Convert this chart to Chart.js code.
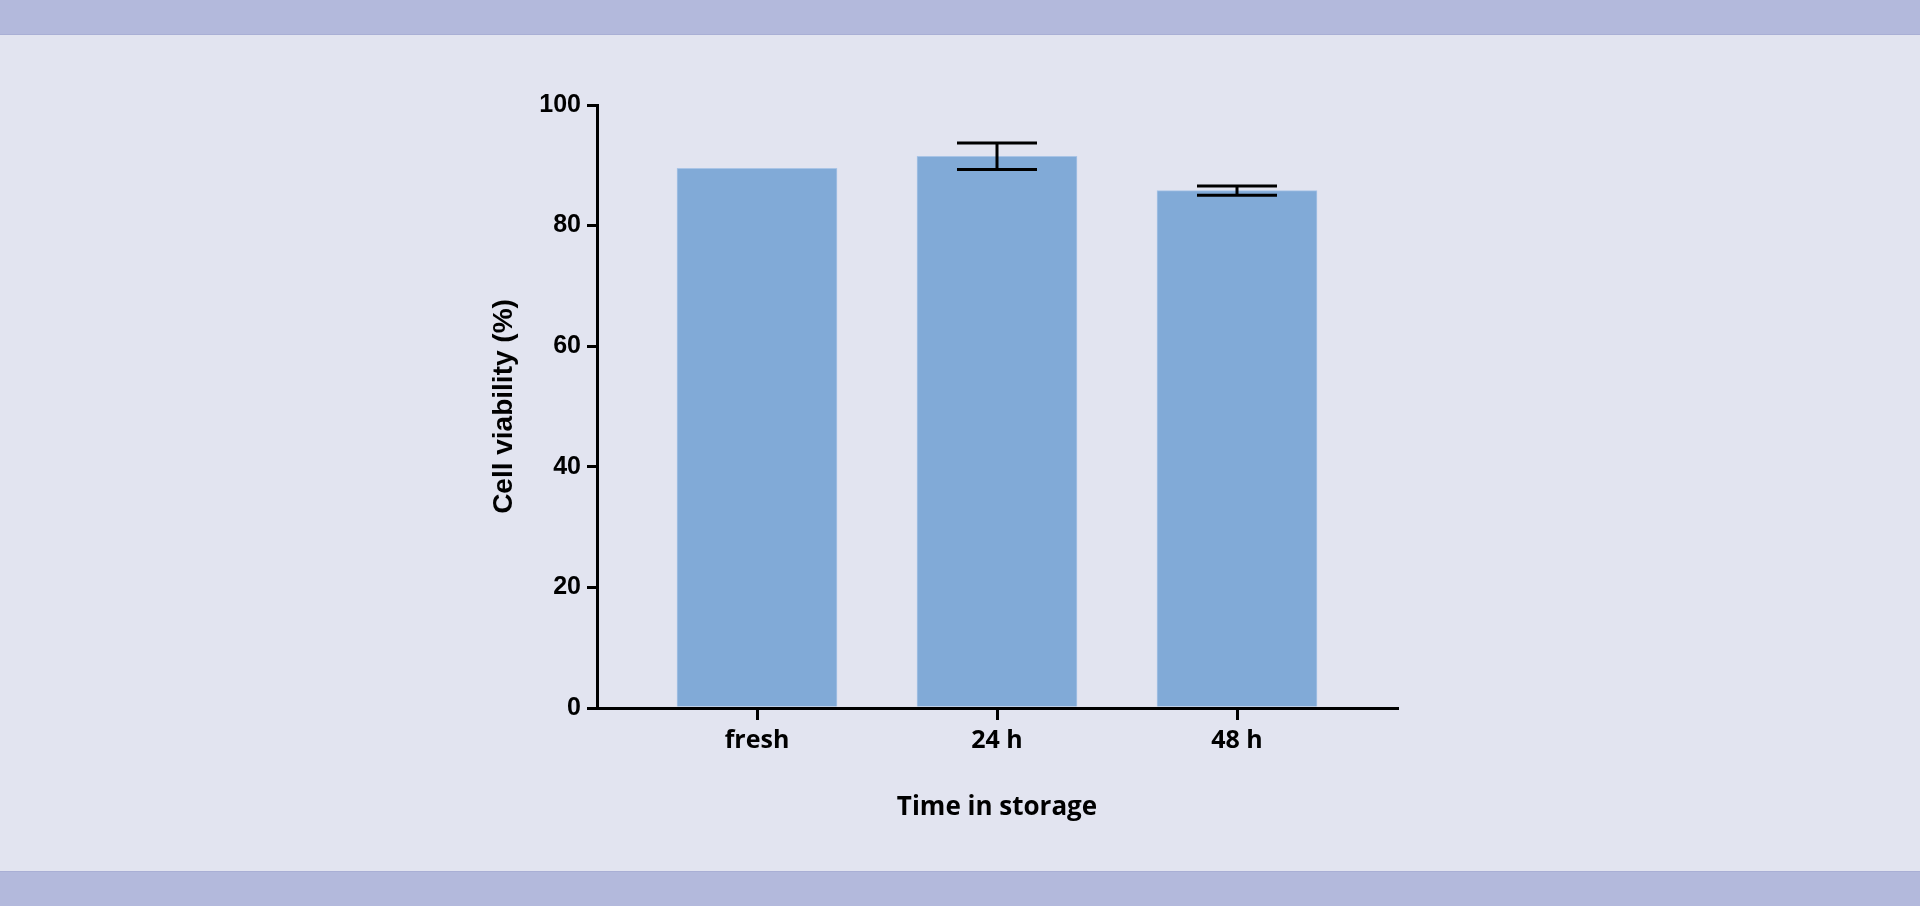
<!DOCTYPE html>
<html>
<head>
<meta charset="utf-8">
<title>Cell viability</title>
<script src="https://cdn.jsdelivr.net/npm/chart.js@4/dist/chart.umd.min.js"></script>
<style>
    html, body { margin: 0; padding: 0; }
    body { width: 1920px; height: 906px; background: #e2e4f0; position: relative; overflow: hidden; }
    .band { position: absolute; left: 0; width: 1920px; background: #b3b9dc; }
    .band.top { top: 0; border-bottom: 1px solid #a9afd5; height: 34px; }
    .band.bottom { bottom: 0; border-top: 1px solid #a9afd5; height: 34px; }
    #chart { position: absolute; left: 0; top: 0; }
</style>
</head>
<body>
<div class="band top"></div>
<div class="band bottom"></div>
<canvas id="chart" width="1920" height="906"></canvas>
<script>
// --- Data ---
const categories = ['fresh', '24 h', '48 h'];
const viability = [89.5, 91.5, 85.8];
const viabilitySd = [null, 2.2, 0.75];
const yTicks = [0, 20, 40, 60, 80, 100];

// --- Error bar plugin (uses the chart's own scales) ---
const errorBars = {
    id: 'errorBars',
    afterDatasetsDraw(chart, args, opts) {
        const { ctx, scales: { x, y } } = chart;
        ctx.save();
        ctx.strokeStyle = opts.color;
        ctx.lineWidth = opts.lineWidth;
        viability.forEach((v, i) => {
            const sd = viabilitySd[i];
            if (!sd) return;
            const cx = x.getPixelForValue(i);
            const yHi = y.getPixelForValue(v + sd);
            const yLo = y.getPixelForValue(v - sd);
            const half = opts.capWidth / 2;
            ctx.beginPath();
            ctx.moveTo(cx, yHi);
            ctx.lineTo(cx, yLo);
            ctx.moveTo(cx - half, yHi);
            ctx.lineTo(cx + half, yHi);
            ctx.moveTo(cx - half, yLo);
            ctx.lineTo(cx + half, yLo);
            ctx.stroke();
        });
        ctx.restore();
    }
};

const ctx = document.getElementById('chart');
new Chart(ctx, {
    type: 'bar',
    data: {
        datasets: [{
            label: 'Cell viability',
            data: viability.map((v, i) => ({ x: i, y: v })),
            backgroundColor: '#81aad7',
            borderColor: '#a9c4e6',
            borderWidth: 1,
            barThickness: 160
        }]
    },
    options: {
        responsive: false,
        animation: false,
        layout: { padding: { left: 484, top: 105, right: 523, bottom: 78 } },
        plugins: {
            legend: { display: false },
            tooltip: { enabled: false },
            errorBars: { color: '#000000', lineWidth: 3, capWidth: 80 }
        },
        scales: {
            x: {
                type: 'linear',
                offset: false,
                min: -2 / 3,
                max: categories.length - 1 + 2 / 3,
                afterBuildTicks: (scale) => {
                    scale.ticks = categories.map((c, i) => ({ value: i }));
                },
                afterFit: (scale) => { scale.height = 120; },
                grid: { offset: false, drawOnChartArea: false, drawTicks: true, tickLength: 12, lineWidth: 3, color: '#000000' },
                border: { display: true, width: 3, color: '#000000', z: 1 },
                ticks: {
                    callback: (value) => categories[value],
                    color: '#000000',
                    padding: 6,
                    maxRotation: 0,
                    autoSkip: false,
                    font: { family: 'Open Sans', size: 25, weight: '700' }
                },
                title: {
                    display: true,
                    text: 'Time in storage',
                    color: '#000000',
                    padding: { top: 0, bottom: 5 },
                    font: { family: 'Open Sans', size: 26, weight: '700' }
                }
            },
            y: {
                min: 0,
                max: 100,
                afterBuildTicks: (scale) => {
                    scale.ticks = yTicks.map(v => ({ value: v }));
                },
                afterFit: (scale) => { scale.width = 113; },
                grid: { drawOnChartArea: false, drawTicks: true, tickLength: 10, lineWidth: 3, color: '#000000' },
                border: { display: true, width: 3, color: '#000000', z: 1 },
                ticks: {
                    color: '#000000',
                    padding: 6,
                    font: { family: 'Liberation Sans', size: 25, weight: 'bold' }
                },
                title: {
                    display: true,
                    text: 'Cell viability (%)',
                    color: '#000000',
                    padding: { top: 3, bottom: 0 },
                    font: { family: 'Liberation Sans', size: 28, weight: 'bold' }
                }
            }
        }
    },
    plugins: [errorBars]
});
</script>
</body>
</html>
